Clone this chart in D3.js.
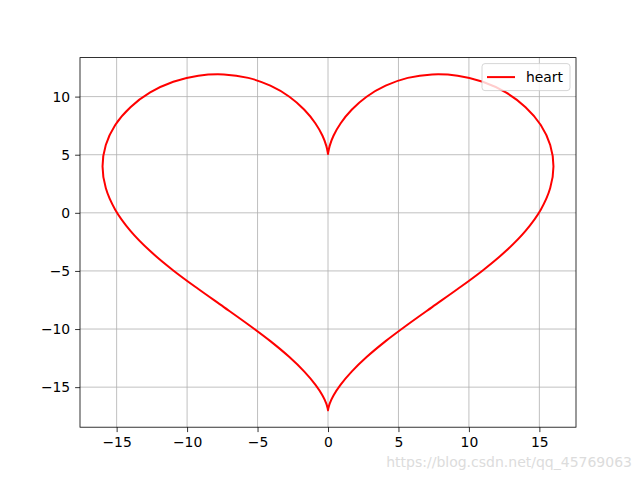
<!DOCTYPE html>
<html>
<head>
<meta charset="utf-8">
<script src="https://cdn.jsdelivr.net/npm/d3@7"></script>
<style>
  body { margin: 0; background: #fff; }
  text { font-family: "DejaVu Sans", sans-serif; }
</style>
</head>
<body>
<div id="chart"></div>
<script>
// heart curve points (right lobe then left lobe)
var heartX = [0, 0.02, 0.12, 0.39, 0.90, 1.68, 2.74, 4.09, 5.66, 7.39, 9.20, 10.98, 12.62, 14.02, 15.10, 15.77,
  16, 15.77, 15.10, 14.02, 12.62, 10.98, 9.20, 7.39, 5.66, 4.09, 2.74, 1.68, 0.90, 0.39, 0.12, 0.02,
  0, -0.02, -0.12, -0.39, -0.90, -1.68, -2.74, -4.09, -5.66, -7.39, -9.20, -10.98, -12.62, -14.02, -15.10, -15.77,
  -16, -15.77, -15.10, -14.02, -12.62, -10.98, -9.20, -7.39, -5.66, -4.09, -2.74, -1.68, -0.90, -0.39, -0.12, -0.02, 0];
var heartY = [5, 5.20, 5.76, 6.63, 7.71, 8.87, 9.99, 10.94, 11.61, 11.91, 11.80, 11.28, 10.36, 9.09, 7.56, 5.83,
  4, 2.13, 0.27, -1.55, -3.29, -4.96, -6.56, -8.11, -9.61, -11.04, -12.41, -13.66, -14.78, -15.71, -16.41, -16.85,
  -17, -16.85, -16.41, -15.71, -14.78, -13.66, -12.41, -11.04, -9.61, -8.11, -6.56, -4.96, -3.29, -1.55, 0.27, 2.13,
  4, 5.83, 7.56, 9.09, 10.36, 11.28, 11.80, 11.91, 11.61, 10.94, 9.99, 8.87, 7.71, 6.63, 5.76, 5.20, 5];
var xTicks = [-15, -10, -5, 0, 5, 10, 15];
var yTicks = [-15, -10, -5, 0, 5, 10];
var seriesName = "heart";

var W = 640, H = 480;
var margin = {top: 57.6, right: 64, bottom: 52.8, left: 80},
    width = W - margin.left - margin.right,
    height = H - margin.top - margin.bottom;

var svg = d3.select("#chart").append("svg")
    .attr("width", W)
    .attr("height", H);

var g = svg.append("g")
    .attr("transform", "translate(" + margin.left + "," + margin.top + ")");

// matplotlib style 5% padding around the data
var xExt = d3.extent(heartX), yExt = d3.extent(heartY);
var xPad = (xExt[1] - xExt[0]) * 0.05, yPad = (yExt[1] - yExt[0]) * 0.05;

var x = d3.scaleLinear()
    .domain([xExt[0] - xPad, xExt[1] + xPad])
    .range([0, width]);
var y = d3.scaleLinear()
    .domain([yExt[0] - yPad, yExt[1] + yPad])
    .range([height, 0]);

var fmt = function(d) { return d < 0 ? "\u2212" + Math.abs(d) : "" + d; };

// grid
g.append("g").selectAll("line").data(xTicks).enter().append("line")
    .attr("x1", d => x(d)).attr("x2", d => x(d))
    .attr("y1", 0).attr("y2", height)
    .attr("stroke", "#b0b0b0").attr("stroke-width", 0.8);
g.append("g").selectAll("line").data(yTicks).enter().append("line")
    .attr("y1", d => y(d)).attr("y2", d => y(d))
    .attr("x1", 0).attr("x2", width)
    .attr("stroke", "#b0b0b0").attr("stroke-width", 0.8);

// heart line (smoothed between the read points)
var pts = heartX.map(function(d, i) { return [d, heartY[i]]; });
g.append("path")
    .datum(pts)
    .attr("fill", "none")
    .attr("stroke", "red")
    .attr("stroke-width", 2)
    .attr("stroke-linejoin", "round")
    .attr("d", d3.line()
      .curve(d3.curveCatmullRom.alpha(0.5))
      .x(function(d) { return x(d[0]); })
      .y(function(d) { return y(d[1]); }));

// axes
var xAxis = g.append("g")
    .attr("transform", "translate(0," + height + ")")
    .call(d3.axisBottom(x).tickValues(xTicks).tickFormat(fmt).tickSizeInner(4.9).tickSizeOuter(0).tickPadding(4.9));
var yAxis = g.append("g")
    .call(d3.axisLeft(y).tickValues(yTicks).tickFormat(fmt).tickSizeInner(4.9).tickSizeOuter(0).tickPadding(4.9));
[xAxis, yAxis].forEach(function(a) {
  a.select(".domain").remove();
  a.selectAll("line").attr("stroke", "#000").attr("stroke-width", 0.8);
  a.selectAll("text").attr("fill", "#000").style("font-size", "13.9px").style("font-family", "DejaVu Sans");
});

// frame
g.append("rect")
    .attr("width", width).attr("height", height)
    .attr("fill", "none").attr("stroke", "#000").attr("stroke-width", 0.8);

// legend, upper right
var lg = g.append("g").attr("transform", "translate(" + (width - 94) + ",6)");
lg.append("rect")
    .attr("width", 88).attr("height", 27).attr("rx", 3)
    .attr("fill", "#fff").attr("fill-opacity", 0.8)
    .attr("stroke", "#cccccc").attr("stroke-width", 0.8);
lg.append("line")
    .attr("x1", 5).attr("x2", 33).attr("y1", 13.5).attr("y2", 13.5)
    .attr("stroke", "red").attr("stroke-width", 2);
lg.append("text")
    .attr("x", 44).attr("y", 13.5)
    .attr("dominant-baseline", "central")
    .style("font-size", "13.9px")
    .text(seriesName);

// watermark
svg.append("text")
    .attr("x", 632).attr("y", 467)
    .attr("text-anchor", "end")
    .attr("fill", "#dcdcdc")
    .style("font-size", "14px")
    .text("https://blog.csdn.net/qq_45769063");
</script>
</body>
</html>
